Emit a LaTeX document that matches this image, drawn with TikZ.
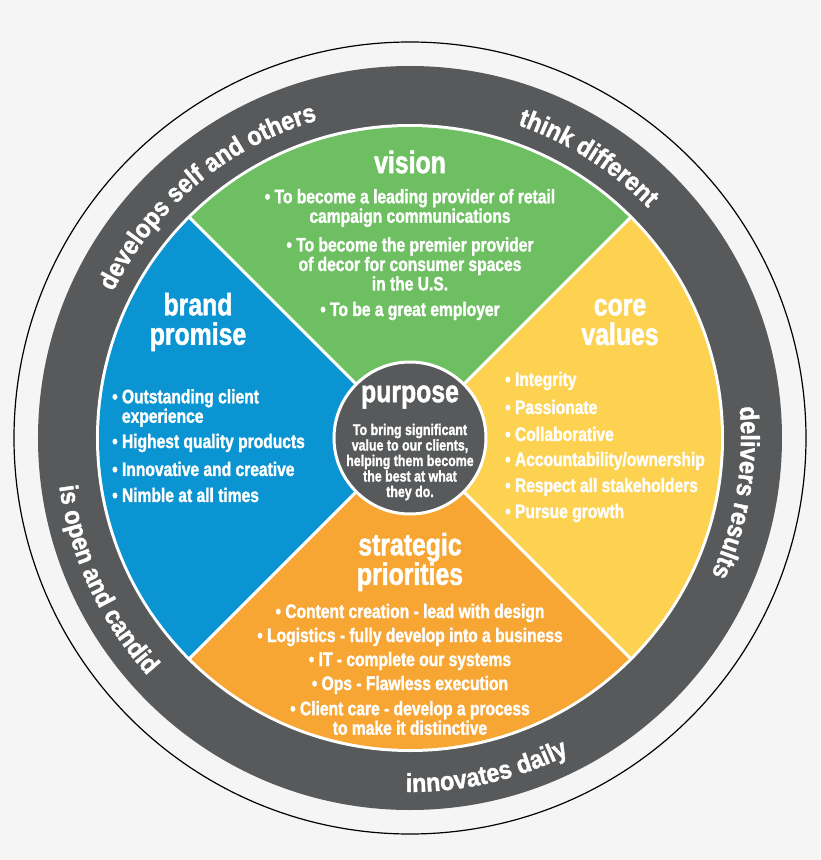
\documentclass[tikz,border=0pt]{standalone}
\usepackage{fontspec}
\usetikzlibrary{decorations.text}
\newfontfamily\cf{Liberation Sans}[FakeStretch=0.8,BoldFeatures={FakeBold=1.5}]
\newfontfamily\rf{Liberation Sans}[FakeStretch=0.9,BoldFeatures={FakeBold=1.5}]
\definecolor{bg}{HTML}{F5F5F5}
\definecolor{ring}{HTML}{58595B}
\definecolor{cgreen}{HTML}{6EBF62}
\definecolor{cblue}{HTML}{0A94D2}
\definecolor{cyellow}{HTML}{FDD250}
\definecolor{corange}{HTML}{F7A634}
\begin{document}
\begin{tikzpicture}[x=1pt,y=1pt,
  title/.style={text=white,font=\cf\bfseries\fontsize{31}{29.5}\selectfont,align=center,inner sep=0},
  item/.style={text=white,font=\cf\bfseries\fontsize{19.5}{19.5}\selectfont,inner sep=0},
  ringtxt/.style={decorate,decoration={text along path,text align=center,text color=white}}]
\useasboundingbox[fill=bg] (-410,-422) rectangle (410,438);
\draw[black,line width=1.2] (0,0) circle[radius=396];
\fill[ring] (0,0) circle[radius=372];
\fill[white] (0,0) circle[radius=314];
\fill[cgreen] (0,0) -- (45:311) arc[start angle=45,end angle=135,radius=311] -- cycle;
\fill[cblue] (0,0) -- (135:311) arc[start angle=135,end angle=225,radius=311] -- cycle;
\fill[corange] (0,0) -- (225:311) arc[start angle=225,end angle=315,radius=311] -- cycle;
\fill[cyellow] (0,0) -- (315:311) arc[start angle=315,end angle=405,radius=311] -- cycle;
\draw[white,line width=3] (45:312) -- (225:312) (135:312) -- (315:312);
\filldraw[fill=ring,draw=white,line width=3] (0,0) circle[radius=76];
% ring texts
\path[ringtxt,decoration={text={|\rf\bfseries\fontsize{26}{26}\selectfont|develops self and others}}]
  (158:331) arc[start angle=158,end angle=102,radius=331];
\path[ringtxt,decoration={text={|\rf\bfseries\fontsize{26}{26}\selectfont|think different}}]
  (74:331) arc[start angle=74,end angle=41,radius=331];
\path[ringtxt,decoration={text={|\rf\bfseries\fontsize{26}{26}\selectfont|delivers results}}]
  (7:331) arc[start angle=7,end angle=-26,radius=331];
\path[ringtxt,decoration={text={|\rf\bfseries\fontsize{26}{26}\selectfont|innovates daily}}]
  (-94:354) arc[start angle=-94,end angle=-60,radius=354];
\path[ringtxt,decoration={text={|\rf\bfseries\fontsize{26}{26}\selectfont|is open and candid}}]
  (182:354) arc[start angle=182,end angle=228,radius=354];
% vision
\node[title] (vt) at (0,276) {vision};
\node[item,align=center] (v1) at (0,230) {• To become a leading provider of retail\\campaign communications};
\node[item,align=center] (v2) at (0,174) {• To become the premier provider\\of decor for consumer spaces\\in the U.S.};
\node[item] (v3) at (0,127) {• To be a great employer};
% brand promise
\node[title] (bt) at (-212,116) {brand\\promise};
\node[item,anchor=west,align=left] (b1) at (-298,30) {• Outstanding client\\\phantom{• }experience};
\node[item,anchor=west] (b2) at (-298,-5) {• Highest quality products};
\node[item,anchor=west] (b3) at (-298,-31) {• Innovative and creative};
\node[item,anchor=west] (b4) at (-298,-57) {• Nimble at all times};
% core values
\node[title] (ct) at (210,116) {core\\values};
\node[item,anchor=west] (c1) at (95,57) {• Integrity};
\node[item,anchor=west] (c2) at (95,31) {• Passionate};
\node[item,anchor=west] (c3) at (95,4) {• Collaborative};
\node[item,anchor=west] (c4) at (95,-23) {• Accountability/ownership};
\node[item,anchor=west] (c5) at (95,-49) {• Respect all stakeholders};
\node[item,anchor=west] (c6) at (95,-75) {• Pursue growth};
% strategic priorities
\node[title] (st) at (0,-124) {strategic\\priorities};
\node[item] (s1) at (0,-175) {• Content creation - lead with design};
\node[item] (s2) at (0,-199) {• Logistics - fully develop into a business};
\node[item] (s3) at (0,-223) {• IT - complete our systems};
\node[item] (s4) at (0,-247) {• Ops - Flawless execution};
\node[item,align=center] (s5) at (0,-280) {• Client care - develop a process\\to make it distinctive};
% purpose
\node[title] (pt) at (0,41) {purpose};
\node[text=white,font=\cf\bfseries\fontsize{15.5}{15.5}\selectfont,align=center,inner sep=0] (pb) at (0,-24)
  {To bring significant\\value to our clients,\\helping them become\\the best at what\\they do.};
\end{tikzpicture}
\end{document}
